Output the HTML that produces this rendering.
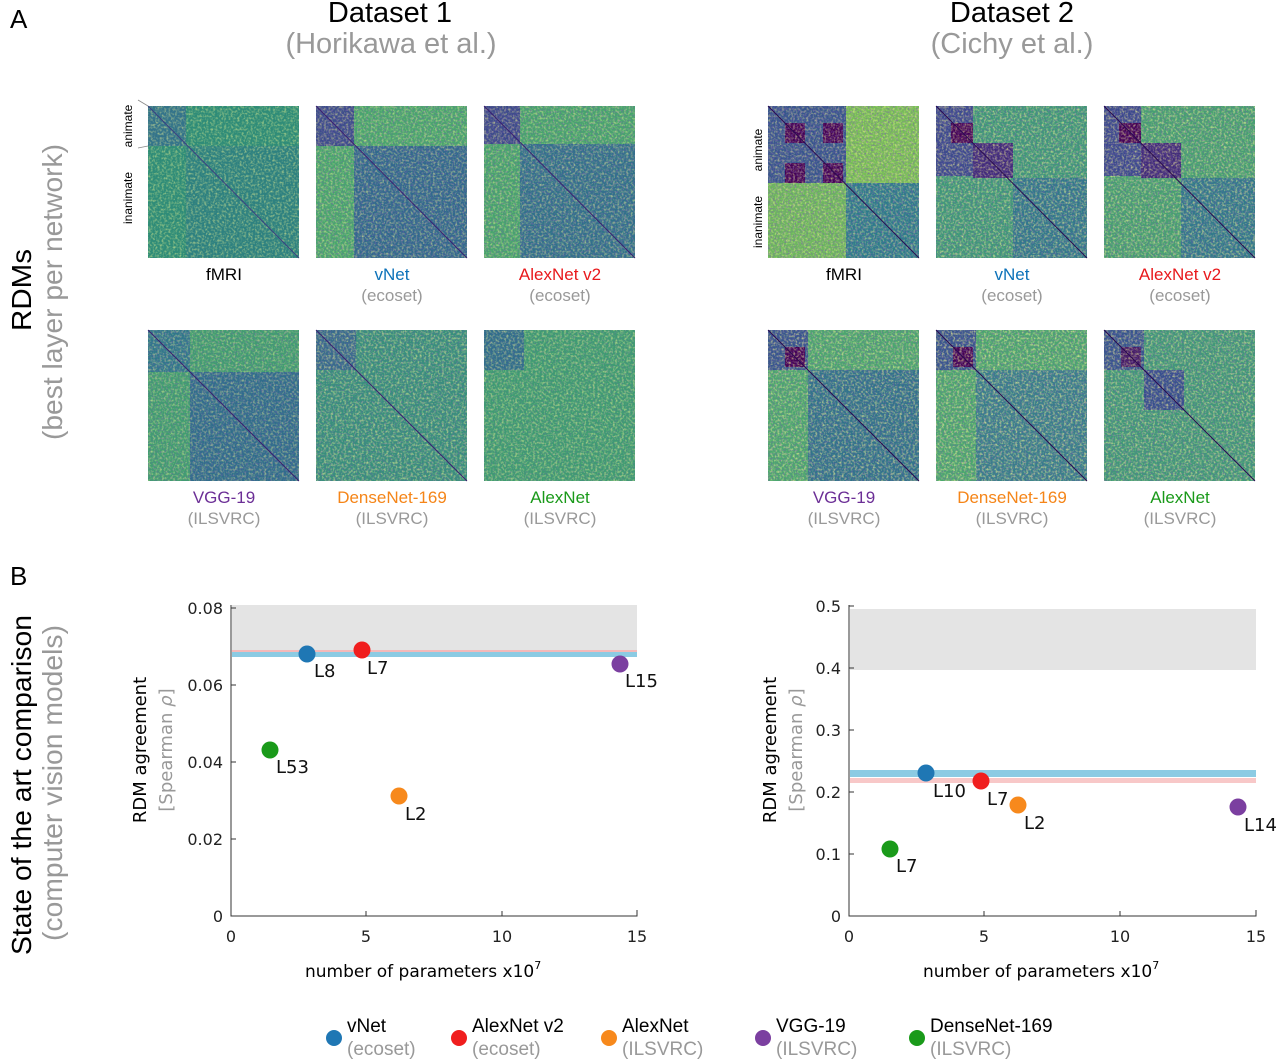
<!DOCTYPE html>
<html><head><meta charset="utf-8"><style>
html,body{margin:0;padding:0;background:#fff}
svg{display:block;font-family:"Liberation Sans",sans-serif}
.dv{font-family:"DejaVu Sans","Liberation Sans",sans-serif}
</style></head><body>
<svg width="1280" height="1060" viewBox="0 0 1280 1060" xmlns="http://www.w3.org/2000/svg">
<defs>
<filter id="nz" x="0" y="0" width="100%" height="100%">
<feTurbulence type="fractalNoise" baseFrequency="0.45" numOctaves="2" seed="3"/>
<feColorMatrix type="matrix" values="0 0 0 0 1  0 0 0 0 1  0 0 0 0 0.3  2.2 0 0 0 -0.95"/>
</filter>
<filter id="nz2" x="0" y="0" width="100%" height="100%">
<feTurbulence type="fractalNoise" baseFrequency="0.6" numOctaves="1" seed="7"/>
<feColorMatrix type="matrix" values="0 0 0 0 0.2  0 0 0 0 0.1  0 0 0 0 0.45  2.4 0 0 0 -1.05"/>
</filter>
</defs>

<text x="10" y="28" font-size="26">A</text>
<text x="390" y="22" font-size="29" text-anchor="middle">Dataset 1</text>
<text x="391" y="53" font-size="29" text-anchor="middle" fill="#999">(Horikawa et al.)</text>
<text x="1012" y="22" font-size="29" text-anchor="middle">Dataset 2</text>
<text x="1012" y="53" font-size="29" text-anchor="middle" fill="#999">(Cichy et al.)</text>
<text transform="rotate(-90 31 290)" x="31" y="290" font-size="28" text-anchor="middle" textLength="82" lengthAdjust="spacingAndGlyphs">RDMs</text>
<text transform="rotate(-90 62 292)" x="62" y="292" font-size="28" text-anchor="middle" fill="#999" textLength="296" lengthAdjust="spacingAndGlyphs">(best layer per network)</text>
<text x="10" y="585" font-size="26">B</text>
<text transform="rotate(-90 31 785)" x="31" y="785" font-size="28" text-anchor="middle" textLength="340" lengthAdjust="spacingAndGlyphs">State of the art comparison</text>
<text transform="rotate(-90 62 783)" x="62" y="783" font-size="28" text-anchor="middle" fill="#999" textLength="316" lengthAdjust="spacingAndGlyphs">(computer vision models)</text>

<g>
<rect x="148" y="106" width="151" height="152" fill="#2f8c78"/>
<rect x="148" y="106" width="38" height="40" fill="#33738a"/>
<rect x="186" y="146" width="113" height="112" fill="#2e8180"/>
<rect x="148" y="106" width="151" height="152" filter="url(#nz)" opacity="0.55"/>
<line x1="148" y1="106" x2="299" y2="258" stroke="#3b3f80" stroke-width="1"/>
</g>
<g>
<rect x="316" y="106" width="151" height="152" fill="#47a86c"/>
<rect x="316" y="106" width="38" height="40" fill="#3a4d8a"/>
<rect x="354" y="146" width="113" height="112" fill="#2f6a8c"/>
<rect x="316" y="106" width="151" height="152" filter="url(#nz)" opacity="0.6"/>
<rect x="316" y="106" width="151" height="152" filter="url(#nz2)" opacity="0.6"/>
<line x1="316" y1="106" x2="467" y2="258" stroke="#3b1f70" stroke-width="1"/>
</g>
<g>
<rect x="484" y="106" width="151" height="152" fill="#45a66c"/>
<rect x="484" y="106" width="36" height="38" fill="#3a4a8a"/>
<rect x="520" y="144" width="115" height="114" fill="#2f728a"/>
<rect x="484" y="106" width="151" height="152" filter="url(#nz)" opacity="0.6"/>
<rect x="484" y="106" width="151" height="152" filter="url(#nz2)" opacity="0.6"/>
<line x1="484" y1="106" x2="635" y2="258" stroke="#3b1f70" stroke-width="1"/>
</g>
<g>
<rect x="148" y="330" width="151" height="151" fill="#3f9e70"/>
<rect x="148" y="330" width="42" height="42" fill="#2e788a"/>
<rect x="190" y="372" width="109" height="109" fill="#2e6e8b"/>
<rect x="148" y="330" width="151" height="151" filter="url(#nz)" opacity="0.55"/>
<rect x="148" y="330" width="151" height="151" filter="url(#nz2)" opacity="0.5"/>
<line x1="148" y1="330" x2="299" y2="481" stroke="#3b1f70" stroke-width="1"/>
</g>
<g>
<rect x="316" y="330" width="151" height="151" fill="#36907c"/>
<rect x="316" y="330" width="40" height="40" fill="#356c8b"/>
<rect x="316" y="330" width="151" height="151" filter="url(#nz)" opacity="0.65"/>
<rect x="316" y="330" width="151" height="151" filter="url(#nz2)" opacity="0.5"/>
<line x1="316" y1="330" x2="467" y2="481" stroke="#3b1f70" stroke-width="1"/>
</g>
<g>
<rect x="484" y="330" width="151" height="151" fill="#3e9c72"/>
<rect x="484" y="330" width="40" height="40" fill="#2f6f8a"/>
<rect x="484" y="330" width="151" height="151" filter="url(#nz)" opacity="0.6"/>
<rect x="484" y="330" width="151" height="151" filter="url(#nz2)" opacity="0.35"/>
</g>
<g>
<rect x="768" y="106" width="151" height="152" fill="#2b7d8a"/>
<rect x="768" y="106" width="78" height="77" fill="#35568c"/>
<rect x="846" y="106" width="73" height="77" fill="#78c255"/>
<rect x="768" y="183" width="78" height="75" fill="#6cba5c"/>
<rect x="785" y="123" width="20" height="20" fill="#440154"/>
<rect x="823" y="123" width="20" height="20" fill="#440154"/>
<rect x="785" y="163" width="20" height="20" fill="#440154"/>
<rect x="823" y="163" width="20" height="20" fill="#440154"/>
<rect x="768" y="106" width="151" height="152" filter="url(#nz)" opacity="0.6"/>
<rect x="768" y="106" width="151" height="152" filter="url(#nz2)" opacity="0.7"/>
<line x1="768" y1="106" x2="919" y2="258" stroke="#2a0a50" stroke-width="1"/>
</g>
<g>
<rect x="936" y="106" width="151" height="152" fill="#3d9a78"/>
<rect x="936" y="106" width="37" height="70" fill="#3a4a8c"/>
<rect x="973" y="143" width="40" height="35" fill="#3f2a78"/>
<rect x="951" y="123" width="22" height="20" fill="#440154"/>
<rect x="1013" y="178" width="74" height="80" fill="#2f7a8a"/>
<rect x="936" y="106" width="151" height="152" filter="url(#nz)" opacity="0.7"/>
<rect x="936" y="106" width="151" height="152" filter="url(#nz2)" opacity="0.6"/>
<line x1="936" y1="106" x2="1087" y2="258" stroke="#2a0a50" stroke-width="1"/>
</g>
<g>
<rect x="1104" y="106" width="151" height="152" fill="#45a270"/>
<rect x="1104" y="106" width="37" height="70" fill="#3a4a8c"/>
<rect x="1141" y="143" width="40" height="35" fill="#3f2a78"/>
<rect x="1119" y="123" width="22" height="20" fill="#440154"/>
<rect x="1181" y="178" width="74" height="80" fill="#2f7a8a"/>
<rect x="1104" y="106" width="151" height="152" filter="url(#nz)" opacity="0.7"/>
<rect x="1104" y="106" width="151" height="152" filter="url(#nz2)" opacity="0.6"/>
<line x1="1104" y1="106" x2="1255" y2="258" stroke="#2a0a50" stroke-width="1"/>
</g>
<g>
<rect x="768" y="330" width="151" height="151" fill="#4aa86e"/>
<rect x="768" y="330" width="40" height="40" fill="#35568c"/>
<rect x="785" y="347" width="20" height="20" fill="#440154"/>
<rect x="808" y="370" width="111" height="111" fill="#2f748a"/>
<rect x="768" y="330" width="151" height="151" filter="url(#nz)" opacity="0.7"/>
<rect x="768" y="330" width="151" height="151" filter="url(#nz2)" opacity="0.6"/>
<line x1="768" y1="330" x2="919" y2="481" stroke="#2a0a50" stroke-width="1"/>
</g>
<g>
<rect x="936" y="330" width="151" height="151" fill="#4aa86e"/>
<rect x="936" y="330" width="40" height="40" fill="#35568c"/>
<rect x="953" y="347" width="20" height="20" fill="#440154"/>
<rect x="976" y="370" width="111" height="111" fill="#36808a"/>
<rect x="936" y="330" width="151" height="151" filter="url(#nz)" opacity="0.75"/>
<rect x="936" y="330" width="151" height="151" filter="url(#nz2)" opacity="0.6"/>
<line x1="936" y1="330" x2="1087" y2="481" stroke="#2a0a50" stroke-width="1"/>
</g>
<g>
<rect x="1104" y="330" width="151" height="151" fill="#3f9a78"/>
<rect x="1104" y="330" width="40" height="40" fill="#35568c"/>
<rect x="1121" y="347" width="20" height="20" fill="#441a64"/>
<rect x="1144" y="370" width="40" height="40" fill="#34508c"/>
<rect x="1104" y="330" width="151" height="151" filter="url(#nz)" opacity="0.7"/>
<rect x="1104" y="330" width="151" height="151" filter="url(#nz2)" opacity="0.6"/>
<line x1="1104" y1="330" x2="1255" y2="481" stroke="#2a0a50" stroke-width="1"/>
</g>

<g font-size="12" text-anchor="middle">
<text transform="rotate(-90 132 126)" x="132" y="126">animate</text>
<text transform="rotate(-90 132 198)" x="132" y="198">inanimate</text>
<path d="M138 100 L148 106 M138 148 L148 146" stroke="#888" fill="none" stroke-width="0.8"/>
<text transform="rotate(-90 762 150)" x="762" y="150">animate</text>
<text transform="rotate(-90 762 222)" x="762" y="222">inanimate</text>
</g>

<g font-size="17" text-anchor="middle">
<text x="224" y="280">fMRI</text>
<text x="392" y="280" fill="#0d72b9">vNet</text>
<text x="392" y="301" fill="#999">(ecoset)</text>
<text x="560" y="280" fill="#e8191c">AlexNet v2</text>
<text x="560" y="301" fill="#999">(ecoset)</text>
<text x="224" y="503" fill="#6c2f96">VGG-19</text>
<text x="224" y="524" fill="#999">(ILSVRC)</text>
<text x="392" y="503" fill="#f58518">DenseNet-169</text>
<text x="392" y="524" fill="#999">(ILSVRC)</text>
<text x="560" y="503" fill="#1a9a1a">AlexNet</text>
<text x="560" y="524" fill="#999">(ILSVRC)</text>
<text x="844" y="280">fMRI</text>
<text x="1012" y="280" fill="#0d72b9">vNet</text>
<text x="1012" y="301" fill="#999">(ecoset)</text>
<text x="1180" y="280" fill="#e8191c">AlexNet v2</text>
<text x="1180" y="301" fill="#999">(ecoset)</text>
<text x="844" y="503" fill="#6c2f96">VGG-19</text>
<text x="844" y="524" fill="#999">(ILSVRC)</text>
<text x="1012" y="503" fill="#f58518">DenseNet-169</text>
<text x="1012" y="524" fill="#999">(ILSVRC)</text>
<text x="1180" y="503" fill="#1a9a1a">AlexNet</text>
<text x="1180" y="524" fill="#999">(ILSVRC)</text>
</g>

<g class="dv">
<rect x="232" y="605" width="405" height="46" fill="#e4e4e4"/>
<rect x="232" y="650" width="405" height="2" fill="#f4b9b9"/>
<rect x="232" y="652" width="405" height="5" fill="#8ccbe3"/>
<path d="M231 605 V916 H637 V910" stroke="#333" fill="none" stroke-width="1"/>
<g stroke="#333" stroke-width="1">
<line x1="231" y1="608" x2="236" y2="608"/><line x1="231" y1="685" x2="236" y2="685"/>
<line x1="231" y1="762" x2="236" y2="762"/><line x1="231" y1="839" x2="236" y2="839"/>
<line x1="366" y1="916" x2="366" y2="911"/><line x1="502" y1="916" x2="502" y2="911"/>
</g>
<g font-size="16" text-anchor="end" fill="#222">
<text x="223" y="614">0.08</text><text x="223" y="691">0.06</text><text x="223" y="768">0.04</text><text x="223" y="845">0.02</text><text x="223" y="922">0</text>
</g>
<g font-size="16" text-anchor="middle" fill="#222">
<text x="231" y="942">0</text><text x="366" y="942">5</text><text x="502" y="942">10</text><text x="637" y="942">15</text>
</g>
<text x="305" y="977" font-size="17">number of parameters x10<tspan font-size="11" dy="-8">7</tspan></text>
<text transform="rotate(-90 146 750)" x="146" y="750" font-size="18" text-anchor="middle">RDM agreement</text>
<text transform="rotate(-90 172 750)" x="172" y="750" font-size="18" text-anchor="middle" fill="#999">[Spearman <tspan font-style="italic">ρ</tspan>]</text>
<circle cx="307" cy="654" r="8.5" fill="#1f77b4"/>
<circle cx="362" cy="650" r="8.5" fill="#f01e1e"/>
<circle cx="620" cy="664" r="8.5" fill="#7b3fa0"/>
<circle cx="270" cy="750" r="8.5" fill="#1a9a1a"/>
<circle cx="399" cy="796" r="8.5" fill="#f7891c"/>
<g font-size="18" fill="#111">
<text x="314" y="677">L8</text><text x="367" y="674">L7</text><text x="625" y="687">L15</text>
<text x="276" y="773">L53</text><text x="405" y="820">L2</text>
</g>
</g>

<g class="dv">
<rect x="850" y="609" width="406" height="61" fill="#e4e4e4"/>
<rect x="850" y="770" width="406" height="7" fill="#8ccbe3"/>
<rect x="850" y="778" width="406" height="5" fill="#f8c8c8"/>
<path d="M849 605 V916 H1256 V910" stroke="#333" fill="none" stroke-width="1"/>
<g stroke="#333" stroke-width="1">
<line x1="849" y1="606" x2="854" y2="606"/><line x1="849" y1="668" x2="854" y2="668"/>
<line x1="849" y1="730" x2="854" y2="730"/><line x1="849" y1="792" x2="854" y2="792"/>
<line x1="849" y1="854" x2="854" y2="854"/>
<line x1="984" y1="916" x2="984" y2="911"/><line x1="1120" y1="916" x2="1120" y2="911"/>
</g>
<g font-size="16" text-anchor="end" fill="#222">
<text x="841" y="612">0.5</text><text x="841" y="674">0.4</text><text x="841" y="736">0.3</text><text x="841" y="798">0.2</text><text x="841" y="860">0.1</text><text x="841" y="922">0</text>
</g>
<g font-size="16" text-anchor="middle" fill="#222">
<text x="849" y="942">0</text><text x="984" y="942">5</text><text x="1120" y="942">10</text><text x="1256" y="942">15</text>
</g>
<text x="923" y="977" font-size="17">number of parameters x10<tspan font-size="11" dy="-8">7</tspan></text>
<text transform="rotate(-90 776 750)" x="776" y="750" font-size="18" text-anchor="middle">RDM agreement</text>
<text transform="rotate(-90 802 750)" x="802" y="750" font-size="18" text-anchor="middle" fill="#999">[Spearman <tspan font-style="italic">ρ</tspan>]</text>
<circle cx="926" cy="773" r="8.5" fill="#1f77b4"/>
<circle cx="981" cy="781" r="8.5" fill="#f01e1e"/>
<circle cx="1018" cy="805" r="8.5" fill="#f7891c"/>
<circle cx="1238" cy="807" r="8.5" fill="#7b3fa0"/>
<circle cx="890" cy="849" r="8.5" fill="#1a9a1a"/>
<g font-size="18" fill="#111">
<text x="933" y="797">L10</text><text x="987" y="805">L7</text><text x="1024" y="829">L2</text>
<text x="1244" y="831">L14</text><text x="896" y="872">L7</text>
</g>
</g>

<g font-size="19">
<circle cx="334" cy="1038" r="8" fill="#1f77b4"/>
<text x="347" y="1032">vNet</text><text x="347" y="1055" fill="#999">(ecoset)</text>
<circle cx="459" cy="1038" r="8" fill="#f01e1e"/>
<text x="472" y="1032">AlexNet v2</text><text x="472" y="1055" fill="#999">(ecoset)</text>
<circle cx="609" cy="1038" r="8" fill="#f7891c"/>
<text x="622" y="1032">AlexNet</text><text x="622" y="1055" fill="#999">(ILSVRC)</text>
<circle cx="763" cy="1038" r="8" fill="#7b3fa0"/>
<text x="776" y="1032">VGG-19</text><text x="776" y="1055" fill="#999">(ILSVRC)</text>
<circle cx="917" cy="1038" r="8" fill="#1a9a1a"/>
<text x="930" y="1032">DenseNet-169</text><text x="930" y="1055" fill="#999">(ILSVRC)</text>
</g>
</svg>
</body></html>
